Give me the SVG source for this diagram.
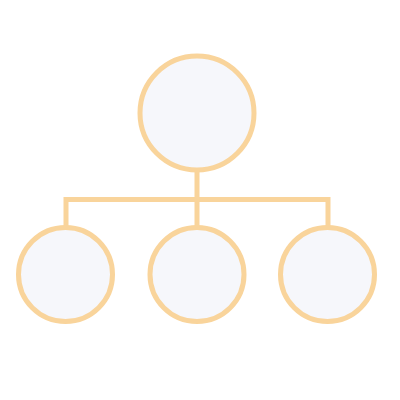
<svg xmlns="http://www.w3.org/2000/svg" width="400" height="400" viewBox="0 0 400 400">
<style>
.node{fill:#F6F7FB;stroke:#F9D49B;stroke-width:5}
.conn{fill:none;stroke:#F9D49B;stroke-width:5}
</style>
<rect width="400" height="400" fill="#FFFFFF"/>
<g id="connectors">
<path class="conn" d="M197 168 V199.5 M66 226 V199.5 H328 V226 M197 199.5 V226"/>
</g>
<g id="root"><circle class="node" cx="197" cy="113" r="57"/></g>
<g id="child1"><circle class="node" cx="65.5" cy="274.5" r="47"/></g>
<g id="child2"><circle class="node" cx="197" cy="274.5" r="47"/></g>
<g id="child3"><circle class="node" cx="327.5" cy="274.5" r="47"/></g>
</svg>
